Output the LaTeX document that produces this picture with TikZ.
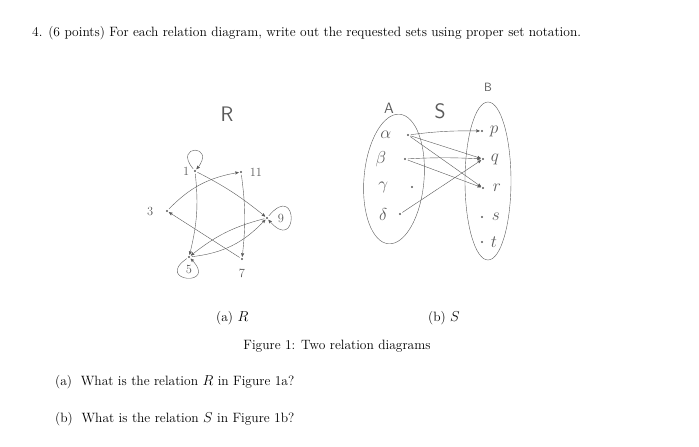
\documentclass[tikz,border=0pt]{standalone}
\usepackage{amsmath}
\usepackage{amssymb}
\usetikzlibrary{arrows, automata, shapes}
\definecolor{pencil}{RGB}{90,90,90}

\begin{document}
\begin{tikzpicture}[x=1pt,y=1pt,>=stealth',font=\fontsize{13.5}{16}\selectfont]
		\tikzstyle{elem}=[circle,fill=pencil,inner sep=0pt,minimum size=2.2pt]
		\tikzstyle{hand}=[text=pencil,font=\fontsize{12.5}{13}\selectfont]
		\tikzstyle{greek}=[text=pencil,font=\fontsize{17}{17}\selectfont]
		\tikzstyle{rel}=[->,draw=pencil,thin,shorten >=1pt,shorten <=1.5pt]
		\tikzstyle{ring}=[draw=pencil,thin]
		\tikzstyle{txt}=[inner sep=0pt,anchor=base west]

		\useasboundingbox (0,0) rectangle (699,-447);

		\node[txt] (title) at (32,-36) {4. (6 points) For each relation diagram, write out the requested sets using proper set notation.};

		\node[hand,font=\sffamily\fontsize{21}{21}\selectfont] (Rname) at (227,-114) {R};
		\node[elem,label={[hand,label distance=1pt]left:1}] (n1) at (195,-171) {};
		\node[elem,label={[hand,label distance=4pt]right:11}] (n11) at (241,-172) {};
		\node[elem,label={[hand,label distance=9pt]left:3}] (n3) at (167,-211) {};
		\node[elem,label={[hand,label distance=6pt]right:9}] (n9) at (267,-218) {};
		\node[elem,label={[hand,label distance=3pt]below:5}] (n5) at (189,-257) {};
		\node[elem,label={[hand,label distance=5pt]below:7}] (n7) at (242,-259) {};

		\path (n1) edge [rel,loop above,min distance=34pt,in=50,out=130] (n1)
			       edge [rel,bend left=10]		(n5)
			       edge [rel,bend left=6]		(n9)
			 (n3) edge [rel,bend left=18]		(n11)
			 (n11) edge [rel,bend left=7]		(n7)
			 (n7) edge [rel]					(n3)
			 (n9) edge [rel,bend right=12]		(n5)
			       edge [rel,loop right,min distance=48pt,in=-50,out=50] (n9)
			 (n5) edge [rel,bend right=20]		(n9)
			       edge [rel,loop below,min distance=42pt,in=-45,out=215] (n5);

		\node[hand,font=\sffamily\fontsize{21}{21}\selectfont] (Sname) at (440,-111) {S};
		\node[hand,font=\sffamily\fontsize{15}{15}\selectfont] (Aname) at (389,-108) {A};
		\node[hand,font=\sffamily\fontsize{12}{12}\selectfont] (Bname) at (488,-87) {B};
		\draw[ring] (394,-179) ellipse [x radius=30, y radius=65, rotate=-5];
		\draw[ring] (488,-181) ellipse [x radius=23, y radius=79];

		\node[elem,label={[greek,label distance=12pt]left:$\alpha$}] (al) at (408,-135) {};
		\node[elem,label={[greek,label distance=14pt]left:$\beta$}] (be) at (405,-159) {};
		\node[elem,label={[greek,label distance=19pt]left:$\gamma$}] (ga) at (412,-187) {};
		\node[elem,label={[greek,label distance=8pt]left:$\delta$}] (de) at (400,-214) {};

		\node[elem,label={[greek,label distance=3pt]right:$p$}] (p) at (482,-131) {};
		\node[elem,label={[greek,label distance=3pt]right:$q$}] (q) at (483,-159) {};
		\node[elem,label={[greek,label distance=5pt]right:$r$}] (r) at (483,-188) {};
		\node[elem,label={[greek,label distance=5pt]right:$s$}] (s) at (482,-217) {};
		\node[elem,label={[greek,label distance=4pt]right:$t$}] (t) at (482,-242) {};

		\path (al) edge [rel,bend left=4]	(p)
			       edge [rel]				(q)
			       edge [rel]				(r)
			 (be) edge [rel,bend left=3]	(q)
			       edge [rel]				(r)
			 (de) edge [rel]				(q);

		\node[txt] (capa) at (216,-321) {(a) $R$};
		\node[txt] (capb) at (428,-321) {(b) $S$};
		\node[txt,anchor=base] (fig) at (337,-349) {Figure 1: Two relation diagrams};
		\node[txt] (qa) at (55,-385) {(a)\ \ What is the relation $R$ in Figure 1a?};
		\node[txt] (qb) at (55,-422) {(b)\ \ What is the relation $S$ in Figure 1b?};
	\end{tikzpicture}
\end{document}
